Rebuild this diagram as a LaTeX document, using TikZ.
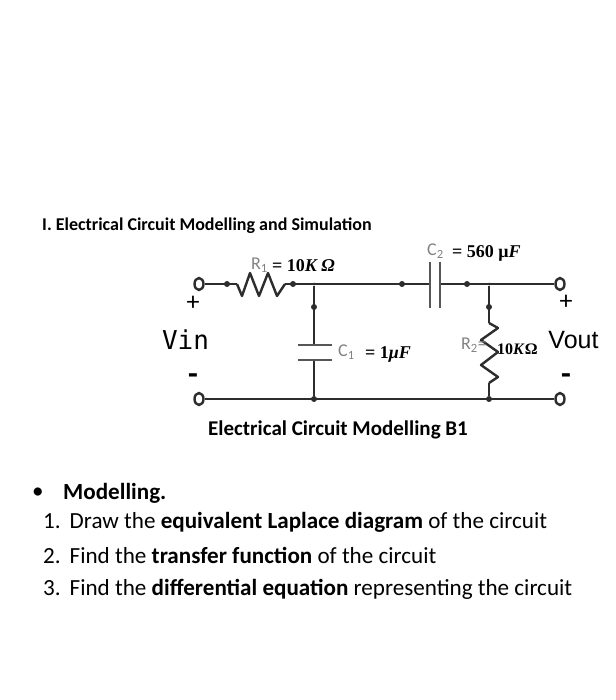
\documentclass[tikz,border=0pt]{standalone}
\usepackage{fontspec}
\setmainfont{Carlito}
\newfontfamily\mathserif{Liberation Serif}
\newfontfamily\monofont{DejaVu Sans Mono}
\newfontfamily\vfont{Liberation Sans}
\definecolor{mygrey}{RGB}{130,130,130}
\definecolor{mywire}{RGB}{45,45,45}
\usetikzlibrary{positioning}
\usetikzlibrary{shapes.geometric}
\tikzset{wire/.style={draw=mywire,line width=2.4pt},}
\tikzset{plate/.style={draw=mywire!80,line width=2.6pt},}
\tikzset{dotnode/.style={circle,fill=mywire,inner sep=0pt,minimum size=6pt},}
\tikzset{junction/.style={circle,fill=mywire,inner sep=0pt,minimum size=3pt},}
\tikzset{terminal/.style={ellipse,draw=mywire,line width=2.4pt,fill=white,inner sep=0pt,minimum width=9pt,minimum height=12pt},}
\tikzset{heading/.style={anchor=west,inner sep=0pt,font=\fontsize{18}{21}\selectfont\bfseries},}
\tikzset{bodytext/.style={anchor=west,inner sep=0pt,font=\fontsize{23.1}{26}\selectfont},}
\tikzset{mathlabel/.style={anchor=west,inner sep=0pt,font=\fontsize{18}{21}\selectfont\mathserif\bfseries},}
\tikzset{greylabel/.style={anchor=west,inner sep=0pt,text=mygrey,font=\fontsize{18}{21}\selectfont},}
\tikzset{pluslabel/.style={inner sep=0pt,font=\fontsize{26}{28}\selectfont},}
\tikzset{minuslabel/.style={inner sep=0pt,font=\fontsize{32}{34}\selectfont\bfseries},}
\begin{document}
\begin{tikzpicture}[x=1pt,y=-1pt]
	\useasboundingbox (0,0) rectangle (615,700);
	% circuit nodes
	\node[terminal] (inp) at (199,284) {};
	\node[terminal] (inn) at (199,399) {};
	\node[terminal] (outp) at (560,284) {};
	\node[terminal] (outn) at (560,399) {};
	\node[dotnode] (d1) at (227,284) {};
	\node[dotnode] (d2) at (293,284) {};
	\node[junction] (top1) at (314,284) {};
	\node[dotnode] (d3) at (314,307) {};
	\node[dotnode] (bot1) at (314,399) {};
	\node[dotnode] (d4) at (402,284) {};
	\node[dotnode] (d5) at (467,284) {};
	\node[junction] (top2) at (489,284) {};
	\node[dotnode] (d6) at (489,307) {};
	\node[dotnode] (bot2) at (489,399) {};
	\coordinate (r1a) at (237,284);
	\coordinate (r1b) at (285,284);
	\coordinate (r2a) at (489,323);
	\coordinate (r2b) at (489,383);
	\coordinate (c1a) at (314,345);
	\coordinate (c1b) at (314,360);
	\coordinate (c2a) at (430,284);
	\coordinate (c2b) at (440,284);

	% wires
	\path[wire]
	(inp) -- (r1a)
	(r1b) -- (c2a)
	(c2b) -- (outp)
	(inn) -- (outn)
	(top1) -- (c1a)
	(c1b) -- (bot1)
	(top2) -- (r2a)
	(r2b) -- (bot2);
	% resistors
	\draw[wire,line join=round] (r1a) -- (242,296) -- (250,273) -- (259,296) -- (268,273) -- (277,296) -- (r1b);
	\draw[wire,line join=round] (r2a) -- (498,328) -- (481,340) -- (498,352) -- (481,365) -- (498,377) -- (r2b);
	% capacitors
	\draw[plate] (298,345) -- (332,345);
	\draw[plate] (298,360) -- (332,360);
	\draw[plate] (430,262) -- (430,308);
	\draw[plate] (440,262) -- (440,308);

	% circuit labels
	\node[greylabel] (r1name) at (251,265) {R\textsubscript{1}};
	\node[mathlabel] (r1val) at (272,266) {= 10\textit{K Ω}};
	\node[greylabel] (c1name) at (338,352) {C\textsubscript{1}};
	\node[mathlabel] (c1val) at (365,354) {= 1\textit{μF}};
	\node[greylabel] (c2name) at (427,251) {C\textsubscript{2}};
	\node[mathlabel] (c2val) at (452,253) {= 560 μ\textit{F}};
	\node[greylabel] (r2name) at (461,345) {R\textsubscript{2}=};
	\node[mathlabel,font=\fontsize{16}{18}\selectfont\mathserif\bfseries] (r2val) at (497,349) {10\textit{K}Ω};
	\node[anchor=center,inner sep=0pt,font=\fontsize{26}{28}\selectfont\monofont] (vin) at (185.5,340) {Vin};
	\node[anchor=center,inner sep=0pt,font=\fontsize{25}{28}\selectfont\vfont] (vout) at (573.5,340) {Vout};
	\node[pluslabel] (plusin) at (193,303) {+};
	\node[minuslabel] (minusin) at (193,379) {-};
	\node[pluslabel] (plusout) at (566,302) {+};
	\node[minuslabel] (minusout) at (566,379) {-};

	% text
	\node[heading] (title) at (42,226) {I. Electrical Circuit Modelling and Simulation};
	\node[heading,font=\fontsize{21}{24}\selectfont\bfseries] (caption) at (208,430) {Electrical Circuit Modelling B1};
	\node[bodytext] (bullet) at (28,493) {\,•};
	\node[bodytext,font=\fontsize{23.1}{26}\selectfont\bfseries] (model) at (63,493) {Modelling.};
	\node[bodytext] (item1) at (43,522) {1.\hspace{9pt}Draw the \textbf{equivalent Laplace diagram} of the circuit};
	\node[bodytext] (item2) at (43,555) {2.\hspace{9pt}Find the \textbf{transfer function} of the circuit};
	\node[bodytext] (item3) at (43,589) {3.\hspace{9pt}Find the \textbf{differential equation} representing the circuit};
\end{tikzpicture}
\end{document}
